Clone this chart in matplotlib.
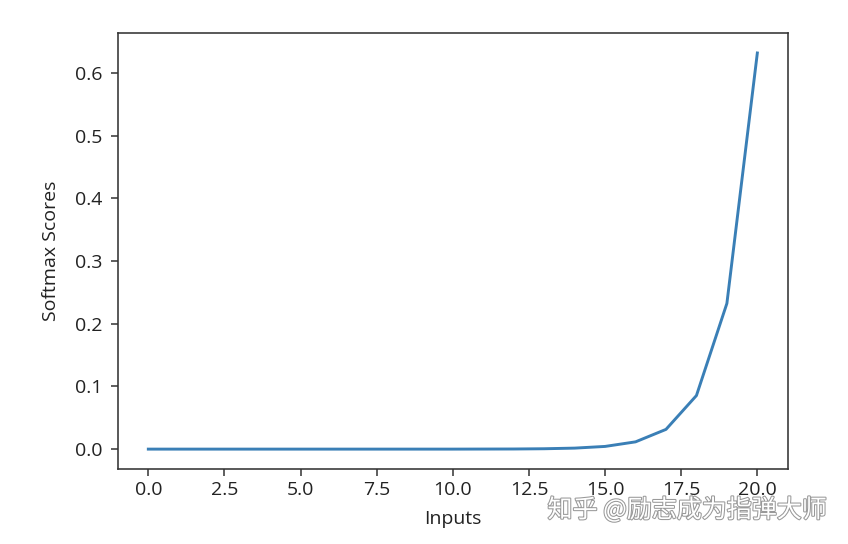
import matplotlib
matplotlib.use('Agg')
import matplotlib.pyplot as plt
import matplotlib.patheffects as pe

# softmax scores, inputs 0..20
inputs = [0, 1, 2, 3, 4, 5, 6, 7, 8, 9, 10, 11, 12, 13, 14, 15, 16, 17, 18, 19, 20]
scores = [0.0000, 0.0000, 0.0000, 0.0000, 0.0000, 0.0000, 0.0000, 0.0000,
          0.0000, 0.0000, 0.0000, 0.0001, 0.0002, 0.0006, 0.0016, 0.0043,
          0.0116, 0.0315, 0.0855, 0.2325, 0.6321]

plt.rcParams['font.family'] = ['Open Sans', 'DejaVu Sans']
plt.rcParams['font.size'] = 14

fig = plt.figure(figsize=(8.48, 5.44), dpi=100)
ax = fig.add_axes([0.139, 0.138, 0.790, 0.801])
ax.plot(inputs, scores, color='#3a7fb6', linewidth=2.1)
ax.set_xlabel('Inputs', color='#222222', labelpad=8)
ax.set_ylabel('Softmax Scores', color='#222222', labelpad=11)
ax.set_xticks([0, 2.5, 5, 7.5, 10, 12.5, 15, 17.5, 20])
ax.set_yticks([0.0, 0.1, 0.2, 0.3, 0.4, 0.5, 0.6])
for s in ax.spines.values():
    s.set_linewidth(1.15)
    s.set_color('#333333')
ax.tick_params(length=5, width=1.1, colors='#333333', labelcolor='#222222')
ax.tick_params(axis='y', pad=6)

# watermark (overlaps the tick labels, as in the original)
fig.text(0.975, 0.062, '知乎 @励志成为指弹大师', ha='right', va='center',
         fontsize=18, color='white',
         family=['Noto Sans CJK SC', 'DejaVu Sans'],
         path_effects=[pe.withStroke(linewidth=1.5, foreground='#999999')])

fig.savefig('out.png', dpi=100)
